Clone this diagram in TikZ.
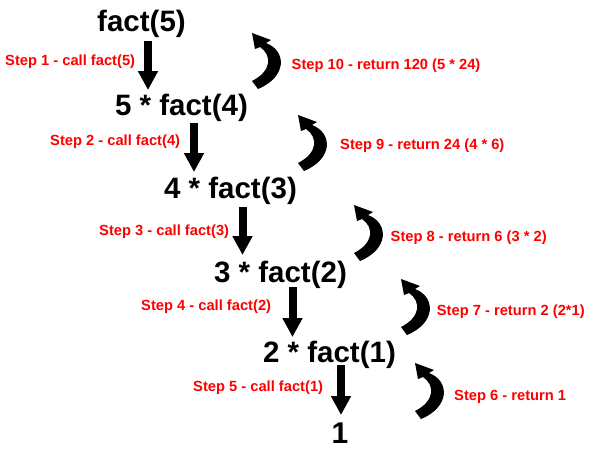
\documentclass[tikz,border=0pt]{standalone}
\usepackage{fontspec}
\setmainfont{Liberation Sans}
\usetikzlibrary{arrows.meta}
\definecolor{stepred}{RGB}{255,0,0}
\tikzset{
  bigtext/.style={font=\fontsize{29.5}{32}\selectfont\bfseries, inner sep=0pt, anchor=base},
  steplabel/.style={font=\fontsize{14.7}{16}\selectfont\bfseries, text=stepred, inner sep=0pt, anchor=base west},
  callarrow/.style={line width=8pt, -{Triangle[width=19pt,length=19pt]}},
  ret/.pic={\fill[black] (0,0) -- (19,7) -- (14,10) .. controls (35,18) and (35,44) .. (6,56) -- (0,48) .. controls (20,38) and (20,22) .. (8,14) -- (3,16) -- cycle;}
}
\begin{document}
\begin{tikzpicture}[x=1pt,y=-1pt]
\useasboundingbox (0,0) rectangle (594,448);
\fill[white] (0,0) rectangle (594,448);
% expressions
\node[bigtext] (f5) at (141.5,31.5) {fact(5)};
\node[bigtext] (f4) at (181.5,115) {5 * fact(4)};
\node[bigtext] (f3) at (230.5,198) {4 * fact(3)};
\node[bigtext] (f2) at (280.5,282) {3 * fact(2)};
\node[bigtext] (f1) at (329.5,362.5) {2 * fact(1)};
\node[bigtext, font=\fontsize{30}{32}\selectfont\bfseries] (one) at (340,443) {1};
% call arrows
\coordinate (a1s) at (148,41);  \coordinate (a1e) at (148,90);
\coordinate (a2s) at (194,123); \coordinate (a2e) at (194,172);
\coordinate (a3s) at (242.5,207); \coordinate (a3e) at (242.5,255);
\coordinate (a4s) at (292.5,287); \coordinate (a4e) at (292.5,337);
\coordinate (a5s) at (341,365); \coordinate (a5e) at (341,415);
\draw[callarrow] (a1s) -- (a1e);
\draw[callarrow] (a2s) -- (a2e);
\draw[callarrow] (a3s) -- (a3e);
\draw[callarrow] (a4s) -- (a4e);
\draw[callarrow] (a5s) -- (a5e);
% return arrows
\pic at (252,33) {ret};
\pic at (298,115) {ret};
\pic at (354,205) {ret};
\pic at (401,279) {ret};
\pic at (415,363) {ret};
% labels
\node[steplabel] (s1) at (5,65) {Step 1 - call fact(5)};
\node[steplabel] (s2) at (50,145) {Step 2 - call fact(4)};
\node[steplabel] (s3) at (99,235) {Step 3 - call fact(3)};
\node[steplabel] (s4) at (141,310.5) {Step 4 - call fact(2)};
\node[steplabel] (s5) at (193,391.5) {Step 5 - call fact(1)};
\node[steplabel] (s10) at (291.5,69.3) {Step 10 - return 120 (5 * 24)};
\node[steplabel] (s9) at (340,149.3) {Step 9 - return 24 (4 * 6)};
\node[steplabel] (s8) at (390.5,241.7) {Step 8 - return 6 (3 * 2)};
\node[steplabel] (s7) at (436.7,315) {Step 7 - return 2 (2*1)};
\node[steplabel] (s6) at (454,400) {Step 6 - return 1};
\end{tikzpicture}
\end{document}
